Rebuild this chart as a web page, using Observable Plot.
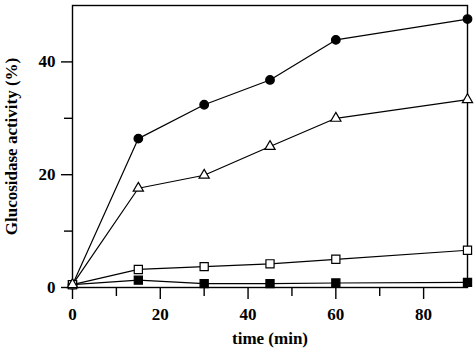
<!DOCTYPE html>
<html>
<head>
<meta charset="utf-8">
<script src="https://cdn.jsdelivr.net/npm/d3@7"></script>
<script src="https://cdn.jsdelivr.net/npm/@observablehq/plot@0.6"></script>
<style>
  html, body { margin: 0; padding: 0; background: #fff; }
</style>
</head>
<body>
<div id="chart"></div>
<script>
const times = [0, 15, 30, 45, 60, 90];
const filledCircle = [0.5, 26.4, 32.4, 36.8, 43.9, 47.6];
const openTriangle = [0.5, 17.6, 19.9, 25.0, 30.0, 33.3];
const openSquare = [0.5, 3.2, 3.7, 4.2, 5.0, 6.6];
const filledSquare = [0.5, 1.3, 0.7, 0.7, 0.8, 0.9];
const xMajorTicks = [0, 20, 40, 60, 80];
const xMinorTicks = [10, 30, 50, 70];
const yMajorTicks = [0, 20, 40];
const yMinorTicks = [10, 30];
const xLabel = "time (min)";
const yLabel = "Glucosidase activity (%)";

const seriesDefs = [
  {name: "filledCircle", values: filledCircle, symbol: "circle", fill: "black", r: 4.3},
  {name: "filledSquare", values: filledSquare, symbol: "square", fill: "black", r: 4.6},
  {name: "openSquare", values: openSquare, symbol: "square", fill: "white", r: 4.6},
  {name: "openTriangle", values: openTriangle, symbol: "triangle", fill: "white", r: 3.8}
];
const rows = seriesDefs.flatMap(s => times.map((t, i) => ({series: s.name, t, v: s.values[i]})));

const marks = [
  Plot.frame({stroke: "black", strokeWidth: 1.4}),
  Plot.axisX({ticks: xMajorTicks, tickSize: 12, tickPadding: 8, label: null, strokeWidth: 1.4, fontSize: 17}),
  Plot.axisX({ticks: xMinorTicks, tickSize: 9, tickFormat: () => "", label: null, strokeWidth: 1.4}),
  Plot.axisY({ticks: yMajorTicks, tickSize: 11, tickPadding: 6, label: null, strokeWidth: 1.4, fontSize: 17}),
  Plot.axisY({ticks: yMinorTicks, tickSize: 8, tickFormat: () => "", label: null, strokeWidth: 1.4}),
  Plot.text([xLabel], {text: d => d, frameAnchor: "bottom", dy: 56, fontSize: 17, fontWeight: "bold"}),
  Plot.text([yLabel], {text: d => d, frameAnchor: "left", dx: -61, rotate: -90, textAnchor: "middle", lineAnchor: "middle", fontSize: 17, fontWeight: "bold"}),
  Plot.line(rows, {x: "t", y: "v", z: "series", stroke: "black", strokeWidth: 1.2})
];
for (const s of seriesDefs) {
  marks.push(Plot.dot(rows.filter(d => d.series === s.name), {
    x: "t", y: "v", symbol: () => s.symbol, r: s.r, fill: s.fill, stroke: "black", strokeWidth: 1.2
  }));
}

const chart = Plot.plot({
  width: 474,
  height: 352,
  marginLeft: 72,
  marginRight: 7,
  marginTop: 5,
  marginBottom: 65,
  x: {domain: [0, 90]},
  y: {domain: [0, 50]},
  symbol: {type: "identity"},
  style: {fontFamily: "'Liberation Serif', serif", fontWeight: "bold", fontSize: "17px", color: "black", background: "white"},
  marks
});
document.getElementById("chart").appendChild(chart);
</script>
</body>
</html>
